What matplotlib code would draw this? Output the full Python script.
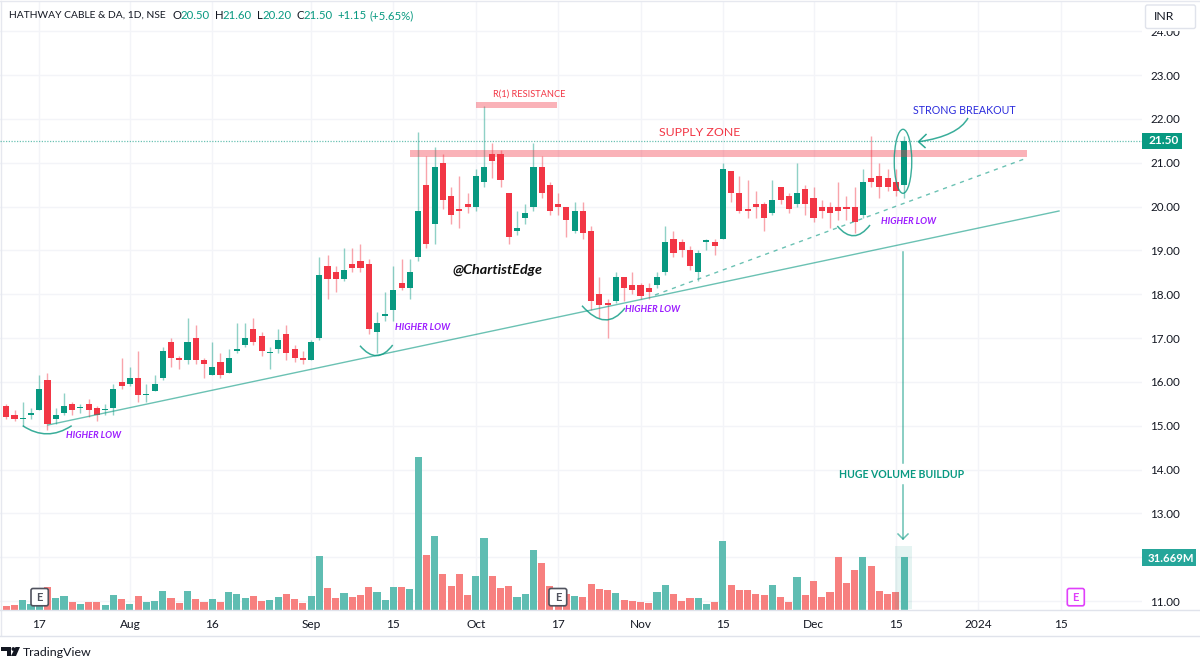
import matplotlib
matplotlib.use("Agg")
import matplotlib.pyplot as plt
from matplotlib.patches import FancyBboxPatch, Ellipse, PathPatch, Polygon, Rectangle
from matplotlib.path import Path

# daily candles
opens = [15.45,15.25,15.15,15.25,15.35,16.05,15.15,15.30,15.50,15.40,15.50,15.40,15.35,15.40,16.00,15.95,16.10,15.70,15.80,16.10,
         16.90,16.55,16.50,17.00,16.50,16.15,16.45,16.20,16.70,16.85,17.20,17.05,16.65,16.75,17.10,16.75,16.55,16.50,17.00,18.65,
         18.50,18.35,18.70,18.75,18.70,17.15,17.50,17.65,18.25,18.15,18.85,20.50,19.60,21.00,20.25,19.95,20.05,20.00,20.55,21.20,
         21.20,20.30,19.45,19.75,20.00,20.90,20.50,20.05,20.00,19.45,19.90,19.45,18.00,17.80,17.85,18.40,18.20,18.20,18.15,18.20,
         18.50,19.25,19.20,19.00,18.50,19.20,19.20,19.25,20.80,20.30,19.95,20.05,20.05,19.85,20.45,20.25,20.05,20.40,20.20,20.00,
         20.00,20.00,20.00,20.00,19.80,20.65,20.70,20.65,20.55,20.50]
highs = [15.50,15.35,15.55,15.40,16.15,16.20,15.40,15.75,15.55,15.50,15.60,15.45,15.50,15.95,16.55,16.35,16.70,15.95,16.15,16.80,
         17.00,16.60,17.45,17.30,16.55,16.90,16.65,16.75,17.35,17.35,17.45,17.15,16.80,17.20,17.30,16.85,16.70,16.95,18.85,18.90,
         18.65,19.05,19.05,19.15,18.80,17.60,18.05,18.65,18.80,18.80,21.70,21.15,21.35,21.20,20.45,20.70,20.30,20.85,22.30,21.45,
         21.30,20.30,19.90,20.05,21.45,21.15,20.55,20.30,20.00,20.10,20.10,19.55,18.40,17.90,18.50,18.40,18.50,18.25,18.25,18.50,
         19.55,19.45,19.25,19.10,19.00,19.25,19.25,21.00,20.80,20.70,20.60,20.35,20.10,20.60,20.45,20.30,21.00,20.50,20.45,20.15,
         20.10,20.55,20.25,20.45,20.85,21.60,21.00,20.85,20.85,21.60]
lows = [15.15,15.10,15.00,15.15,15.35,14.90,15.05,15.25,15.25,15.30,15.20,15.10,15.25,15.25,15.85,15.90,15.55,15.55,15.80,16.05,
        16.35,16.30,16.40,16.40,16.10,16.15,16.10,16.20,16.65,16.80,16.85,16.60,16.30,16.65,16.50,16.45,16.40,16.50,16.95,17.90,
        18.05,18.30,18.50,18.50,17.10,16.65,17.40,17.40,18.10,17.90,18.75,19.05,19.15,19.95,19.60,19.50,19.85,19.90,20.45,20.65,
        20.45,19.15,19.35,19.60,19.90,20.20,19.80,19.80,19.30,19.40,19.25,17.65,17.45,17.00,17.80,17.85,18.00,17.90,17.90,18.15,
        18.45,18.85,18.85,18.55,18.30,19.00,18.90,19.25,20.10,19.85,19.75,19.75,19.45,19.80,20.05,19.85,20.00,19.80,19.65,19.75,
        19.50,19.70,19.70,19.40,19.75,20.45,20.20,20.35,20.25,20.20]
closes = [15.20,15.15,15.15,15.30,15.85,15.05,15.25,15.45,15.35,15.40,15.35,15.25,15.35,15.85,15.90,16.10,15.70,15.70,15.95,16.70,
          16.55,16.50,16.90,16.50,16.40,16.35,16.15,16.55,16.75,17.00,16.90,16.70,16.65,16.95,16.65,16.55,16.50,16.90,18.45,18.35,
          18.35,18.55,18.60,18.60,17.20,17.35,17.55,18.10,18.15,18.50,19.90,19.15,20.90,20.15,19.80,19.90,20.00,20.70,20.90,21.05,
          20.60,19.30,19.50,19.85,20.90,20.30,19.90,20.00,19.70,19.90,19.40,17.85,17.75,17.75,18.40,18.15,18.10,17.95,18.05,18.40,
          19.20,18.95,19.00,18.65,18.95,19.20,19.10,20.85,20.30,19.90,19.90,19.98,19.75,20.15,20.15,19.95,20.30,20.05,19.75,19.90,
          19.85,19.90,19.95,19.65,20.55,20.55,20.45,20.45,20.35,21.50]
# volume in millions
volumes = [2.2,2.8,5.5,3.2,2.6,13.8,6.9,8.5,4.7,3.2,4.7,4.7,2.8,8.7,6.1,3.5,8.5,4.3,5.1,11.2,
           6.9,3.9,11.4,6.5,4.3,6.3,4.3,10.6,9.5,7.3,8.1,5.1,5.9,7.7,9.5,6.3,3.9,8.1,32.5,13.0,
           7.3,9.9,7.7,8.7,13.8,10.4,5.5,13.8,13.4,12.2,92.6,33.1,44.9,21.7,14.2,21.7,9.1,20.3,43.4,20.7,
           12.8,14.2,7.7,9.5,36.5,28.2,14.2,6.1,9.3,8.5,7.7,15.4,12.4,11.8,9.9,5.9,5.1,4.5,3.9,10.8,
           15.2,9.3,5.1,6.9,6.9,3.2,4.3,41.6,14.8,12.0,12.0,9.3,8.9,15.2,7.5,4.7,19.5,8.7,17.3,7.7,
           10.4,32.1,16.0,24.0,32.1,26.4,11.2,9.3,10.4,31.669]

date_ticks = [4, 15, 25, 37, 47, 57, 67, 77, 87, 98, 108, 118, 128]
date_labels = ["17", "Aug", "16", "Sep", "15", "Oct", "17", "Nov", "15", "Dec", "15", "2024", "15"]
price_ticks = [11, 12, 13, 14, 15, 16, 17, 18, 19, 20, 21, 22, 23, 24]
price_labels = ["11.00", "", "13.00", "14.00", "15.00", "16.00", "17.00", "18.00", "19.00", "20.00", "21.00", "22.00", "23.00", "24.00"]

UP = "#089981"
DOWN = "#f23645"
VOL_UP = "#5fbdb2"
VOL_DOWN = "#f7807f"
GRID = "#f3f4f8"
INK = "#131722"

plt.rcParams["font.family"] = "Lato"

fig = plt.figure(figsize=(12, 6.68), dpi=100)

# chart area runs 0-1142 across, 2-609.5 down in pixels
W, H = 1200, 668
ax = fig.add_axes([0, 1 - 609.5 / H, 1142 / W, 607.5 / H])
ax.set_xlim(-0.765, 137.88)
ax.set_ylim(10.81, 24.665)

# volume pane shares the x axis, 0.609M per pixel
vol_ax = ax.twinx()
vol_ax.set_ylim(0, 607.5 * 0.609)
vol_ax.axis("off")
vol_colors = [VOL_UP if c >= o else VOL_DOWN for o, c in zip(opens, closes)]
vol_ax.bar(range(len(volumes)), volumes, width=0.86, color=vol_colors, lw=0, zorder=2)

ax.set_xticks(date_ticks)
ax.set_xticklabels(date_labels, fontsize=8.6, color=INK)
ax.yaxis.tick_right()
ax.set_yticks(price_ticks)
ax.set_yticklabels(price_labels, fontsize=8.4, color=INK)
ax.tick_params(axis="both", length=0)
ax.tick_params(axis="x", pad=7)
ax.tick_params(axis="y", pad=6)
ax.grid(True, color=GRID, lw=1)
ax.set_axisbelow(True)
for s in ax.spines.values():
    s.set_visible(False)

# candles
for i, (o, h, l, c) in enumerate(zip(opens, highs, lows, closes)):
    col = UP if c >= o else DOWN
    ax.plot([i, i], [l, h], color=col, lw=1, alpha=0.45, zorder=3, solid_capstyle="butt")
    ax.bar(i, max(abs(c - o), 0.03), bottom=min(o, c), width=0.74, color=col, lw=0, zorder=4)

# everything drawn by hand on the chart lives on this pixel overlay
ov = fig.add_axes([0, 0, 1, 1], zorder=10)
ov.set_xlim(0, W)
ov.set_ylim(H, 0)
ov.axis("off")


def curve(p0, ctrl, p1, color=UP, lw=1.1):
    path = Path([p0, ctrl, p1], [Path.MOVETO, Path.CURVE3, Path.CURVE3])
    ov.add_patch(PathPatch(path, fc="none", ec=color, lw=lw, alpha=0.8))


def badge(x0, y0, x1, y1, fc="white", ec="#e0e3eb", lw=1.0, pad=2):
    ov.add_patch(FancyBboxPatch((x0 + pad, y0 + pad), x1 - x0 - 2 * pad, y1 - y0 - 2 * pad,
                                boxstyle="round,pad=%s,rounding_size=%s" % (pad, pad),
                                fc=fc, ec=ec, lw=lw))


# frame lines
ov.plot([1, 1], [1, 635], color="#e6e8ef", lw=1)
ov.plot([0, W], [1, 1], color="#e6e8ef", lw=1)
ov.plot([0, W], [609.5, 609.5], color="#e0e3eb", lw=1)
ov.plot([0, W], [635.5, 635.5], color="#e0e3eb", lw=1)

# last price line
ov.plot([0, 1142], [140.7, 140.7], color=UP, lw=0.9, ls=(0, (1, 1.2)), alpha=0.6)

# zones
ov.add_patch(Rectangle((410, 150), 617, 7, fc=DOWN, alpha=0.38, lw=0))
ov.add_patch(Rectangle((476, 102.3), 81, 5.4, fc=DOWN, alpha=0.38, lw=0))
ov.add_patch(Rectangle((895, 546), 16.7, 63, fc=UP, alpha=0.1, lw=0))

# trend lines
ov.plot([48, 1059], [425, 211], color=UP, lw=1.0, alpha=0.6)
ov.plot([655, 1027], [295, 158], color=UP, lw=1.0, alpha=0.6, ls=(0, (3, 3.5)))

# higher low swooshes
curve((22.7, 425.7), (47, 442), (71.7, 425.7))
curve((360, 345.7), (377, 366), (392.7, 345))
curve((582, 305.7), (606, 333), (625, 308))
curve((837.3, 226), (854, 246), (870, 225))

# breakout markers
ov.add_patch(Ellipse((903, 161.3), 17.5, 64, fc="none", ec=UP, lw=1.0, alpha=0.8))
curve((968, 118), (958, 136), (919, 141.7))
ov.plot([926, 918.5, 925], [134.5, 141.7, 147.5], color=UP, lw=1.1, alpha=0.85)

# volume arrow
ov.plot([903, 903], [252, 463], color=UP, lw=1.1, alpha=0.6)
ov.plot([903, 903], [485, 539], color=UP, lw=1.1, alpha=0.6)
ov.plot([898, 903, 908], [534, 539, 534], color=UP, lw=1.1, alpha=0.6)

# labels
ov.text(529.5, 94, "R(1) RESISTANCE", color=DOWN, fontsize=6.7, ha="center", va="center")
ov.text(699.5, 133, "SUPPLY ZONE", color=DOWN, fontsize=8.9, ha="center", va="center")
ov.text(964, 110, "STRONG BREAKOUT", color="#2b2bdc", fontsize=7.7, ha="center", va="center")
ov.text(901.5, 474, "HUGE VOLUME BUILDUP", color=UP, fontsize=7.6, weight="bold", ha="center", va="center")
for x, y in [(94, 435.5), (423, 328), (653, 310), (908.5, 221)]:
    ov.text(x, y, "HIGHER LOW", color="#9c1cff", fontsize=6.7, style="italic", weight="bold", ha="center", va="center")
ov.text(497.5, 269.5, "@ChartistEdge", color="#111111", fontsize=10.4, style="italic", weight="bold",
        ha="center", va="center")

# header
header = [(9, "HATHWAY CABLE & DA, 1D, NSE", INK, 7.4), (172.5, "O", INK, 8.2), (180, "20.50", UP, 8.2), (215, "H", INK, 8.2),
          (222, "21.60", UP, 8.2), (256.5, "L", INK, 8.2), (262, "20.20", UP, 8.2), (296.5, "C", INK, 8.2), (303, "21.50", UP, 8.2),
          (337.5, "+1.15", UP, 8.2), (369, "(+5.65%)", UP, 8.2)]
for x, s, c, fs in header:
    ov.text(x, 15.5, s, color=c, fontsize=fs, ha="left", va="center")

# price tags and currency button, the button hides the top of the 24.00 label
ov.add_patch(Rectangle((1142, 132.5), 40, 16.5, fc=UP, lw=0))
ov.text(1163.5, 141, "21.50", color="white", fontsize=8.6, weight="bold", ha="center", va="center")
ov.add_patch(Rectangle((1142, 549), 54, 17, fc="#26a69a", lw=0))
ov.text(1170.5, 558, "31.669M", color="white", fontsize=8.2, weight="bold", ha="center", va="center")
ov.add_patch(Rectangle((1143, 2), 57, 28.8, fc="white", lw=0))
badge(1145.5, 5, 1195.5, 28.5)
ov.text(1154, 17, "INR", color=INK, fontsize=8.8, ha="left", va="center")

# earnings markers
for x0, x1, ec, tc in [(31, 48.3, "#50535e", "#50535e"), (549, 566.7, "#50535e", "#50535e"),
                       (1067.3, 1084.3, "#e040fb", "#e040fb")]:
    badge(x0, 588.5, x1, 605.8, ec=ec, lw=1.2)
    ov.text((x0 + x1) / 2, 597.3, "E", color=tc, fontsize=8, weight="bold", ha="center", va="center")

# logo
ov.add_patch(Polygon([(1, 647), (11, 647), (11, 656), (6.5, 656), (6.5, 651), (1, 651)], fc=INK, lw=0))
ov.add_patch(Ellipse((13.3, 649), 3.6, 3.8, fc=INK, lw=0))
ov.add_patch(Polygon([(15.5, 647), (20, 647), (16, 656), (11, 656)], fc=INK, lw=0))
ov.text(23, 652, "TradingView", color=INK, fontsize=8.9, ha="left", va="center")

assert len(opens) == len(highs) == len(lows) == len(closes) == len(volumes) == 110
fig.savefig("out.png", dpi=100)
